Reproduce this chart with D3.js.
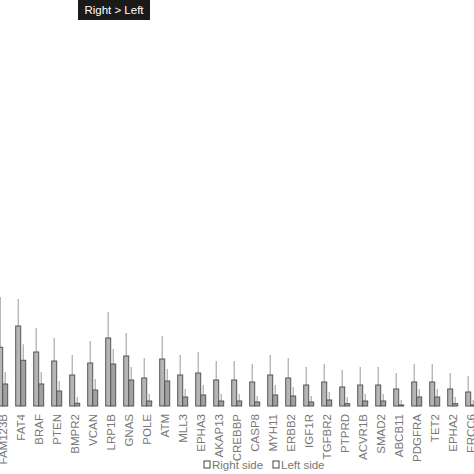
<!DOCTYPE html><html><head><meta charset="utf-8"><script src="https://cdn.jsdelivr.net/npm/d3@7"></script>
<style>body{margin:0;background:#fff}</style></head><body><svg id="c" width="474" height="474"></svg>
<script>
const genes=["FAM123B","FAT4","BRAF","PTEN","BMPR2","VCAN","LRP1B","GNAS","POLE","ATM","MLL3","EPHA3","AKAP13","CREBBP","CASP8","MYH11","ERBB2","IGF1R","TGFBR2","PTPRD","ACVR1B","SMAD2","ABCB11","PDGFRA","TET2","EPHA2","ERCC6"];
const rightVals=[58.7,80,54,45,31,43,68,50,28,47,31,33,26,26,24,31,28,21,24,19,21,21,17,24,24,17,14];
const rightErr=[109,107,78,68,51,65,94,73,48,70,51,54,45,45,42,51,48,39,42,36,39,39,33,42,42,33,30];
const leftVals=[22,45.7,22,15,2.7,16,42,26,5,25,9,11,5,5,4,11,10,4,6,2.3,5,5,1,9,9,2.3,1];
const leftErr=[34,61.7,34,25,9,27,57,39,12,37,17,21,12,12,10,21,19,10,14,9,12,12,6,17,17,9,6];
const seriesNames=["Right side","Left side"];
const svg=d3.select("#c");
const x=d3.scaleBand().domain(genes).range([-6.3,479.7]);
const y=d3.scaleLinear().domain([0,100]).range([406,306]);
const bw=5;
const g=svg.append("g");
genes.forEach((gname,i)=>{
  const cx=x(gname)+x.bandwidth()/2;
  [[rightVals,rightErr,cx-bw],[leftVals,leftErr,cx]].forEach(([v,e,bx],k)=>{
    g.append("line").attr("x1",bx+bw/2).attr("x2",bx+bw/2).attr("y1",y(v[i])).attr("y2",y(e[i])).attr("stroke","#999").attr("stroke-width",1);
    g.append("rect").attr("x",bx).attr("y",y(v[i])).attr("width",bw).attr("height",y(0)-y(v[i]))
      .attr("fill",k==0?"#b5b5b5":"#a0a0a0").attr("stroke","#555").attr("stroke-width",1);
  });
  svg.append("text").attr("transform",`translate(${cx+4},414) rotate(-90)`).attr("text-anchor","end")
    .attr("font-family","Liberation Sans, Arial").attr("font-size",11.5).attr("fill","#777").text(gname);
});
const leg=svg.append("g").attr("font-family","Liberation Sans, Arial").attr("font-size",11.5).attr("fill","#777");
[[204,seriesNames[0]],[273,seriesNames[1]]].forEach(([lx,t])=>{
  leg.append("rect").attr("x",lx).attr("y",461).attr("width",6).attr("height",7).attr("fill","#fff").attr("stroke","#444");
  leg.append("text").attr("x",lx+8).attr("y",469).text(t);
});
svg.append("rect").attr("x",78).attr("y",0).attr("width",72).attr("height",20).attr("fill","#1a1a1a");
svg.append("text").attr("x",114).attr("y",14).attr("text-anchor","middle").attr("fill","#fff")
  .attr("font-family","Liberation Sans, Arial").attr("font-size",11.5).text("Right > Left");
</script></body></html>
